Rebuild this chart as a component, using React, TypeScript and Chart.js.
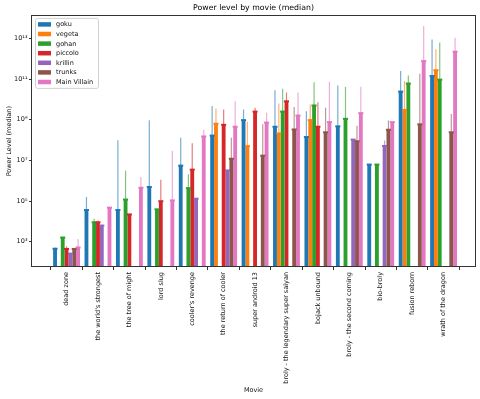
import React, { useEffect, useRef } from 'react';
import { Chart, registerables } from 'chart.js';

Chart.register(...registerables);

const categories = [
  'dead zone',
  "the world's strongest",
  'the tree of might',
  'lord slug',
  "cooler's revenge",
  'the return of cooler',
  'super android 13',
  'broly - the legendary super saiyan',
  'bojack unbound',
  'broly - the second coming',
  'bio-broly',
  'fusion reborn',
  'wrath of the dragon',
];

const seriesNames = ['goku', 'vegeta', 'gohan', 'piccolo', 'krillin', 'trunks', 'Main Villain'];
const seriesColors = ['#1f77b4', '#ff7f0e', '#2ca02c', '#d62728', '#9467bd', '#8c564b', '#e377c2'];

const N = null;
// medians
const goku = [450, 36000, 36000, 490000, 5.5e6, 1.65e8, 9.5e8, 4.5e8, 1.4e8, 4.7e8, 6.2e6, 2.4e10, 1.4e11];
const vegeta = [N, N, N, N, N, 6.3e8, 5e7, 2.1e8, 9.5e8, N, N, 3e9, 2.7e11];
const gohan = [1600, 9000, 118000, 39000, 430000, N, N, 2.5e9, 5e9, 1.1e9, 6.2e6, 6e10, 9.3e10];
const piccolo = [440, 9000, 22000, 98000, 3.5e6, 5.6e8, 2.5e9, 8e9, 4.5e8, N, N, N, N];
const krillin = [260, 6200, N, N, 130000, 3.2e6, N, N, N, 1.05e8, 5.1e7, N, N];
const trunks = [440, N, N, N, N, 1.2e7, 1.7e7, 3.3e8, 2.4e8, 8.7e7, 3.2e8, 5.9e8, 2.4e8];
const mainVillain = [520, 47000, 450000, 107000, 1.5e8, 4.5e8, 7.2e8, 1.6e9, 7.6e8, 2.1e9, 7.6e8, 7.6e11, 2.2e12];

// upper ends of the error bars
const gokuHigh = [520, 160000, 9.8e7, 9.5e8, 1.3e8, 4.7e9, 3.2e9, 2.8e10, 2.6e9, 4.8e10, N, 2.5e11, 8.9e12];
const vegetaHigh = [N, N, N, N, N, 3.5e9, 8e8, 6.3e9, 5.6e9, N, N, 7.9e10, 2.9e12];
const gohanHigh = [1750, 13500, 3.2e6, N, 2.1e6, N, N, 3.3e10, 7e10, 4e10, N, 1.5e11, 6.2e12];
const piccoloHigh = [600, 11000, N, 1.1e6, 6.9e7, 3.2e9, 3.9e9, 2.2e10, 7.2e9, N, N, N, N];
const krillinHigh = [N, 7000, N, N, N, N, N, N, N, N, 9.5e7, N, N];
const trunksHigh = [N, N, N, N, N, 1.3e8, 5.9e8, 4.2e9, 3.9e9, 5.1e8, 9.1e8, 1.8e11, 1.9e9];
const mainVillainHigh = [1350, N, 1.5e6, 3e7, 3.2e8, 8.1e9, 2.2e9, 2.2e10, 7.4e10, 4.2e10, N, 4e13, 1.07e13];

const seriesValues = [goku, vegeta, gohan, piccolo, krillin, trunks, mainVillain];
const seriesHigh = [gokuHigh, vegetaHigh, gohanHigh, piccoloHigh, krillinHigh, trunksHigh, mainVillainHigh];

const yTickValues = [1e3, 1e5, 1e7, 1e9, 1e11, 1e13];

const FONT = "'DejaVu Sans', sans-serif";

const supMap: Record<string, string> = {
  '0': '⁰', '1': '¹', '2': '²', '3': '³', '4': '⁴', '5': '⁵', '6': '⁶', '7': '⁷', '8': '⁸', '9': '⁹',
};
const logLabel = (v: number) => '10' + String(Math.round(Math.log10(v))).split('').map((c) => supMap[c]).join('');

const hexA = (hex: string, a: number) => {
  const r = parseInt(hex.slice(1, 3), 16), g = parseInt(hex.slice(3, 5), 16), b = parseInt(hex.slice(5, 7), 16);
  return `rgba(${r},${g},${b},${a})`;
};

const errorBarPlugin = {
  id: 'errorBars',
  afterDatasetsDraw(chart: any) {
    const ctx = chart.ctx;
    const yScale = chart.scales.y;
    const area = chart.chartArea;
    ctx.save();
    ctx.beginPath();
    ctx.rect(area.left, area.top, area.right - area.left, area.bottom - area.top);
    ctx.clip();
    chart.data.datasets.forEach((ds: any, i: number) => {
      const meta = chart.getDatasetMeta(i);
      const highs = seriesHigh[i];
      const color = seriesColors[i];
      meta.data.forEach((el: any, j: number) => {
        const v = ds.data[j].y;
        if (v == null) return;
        const p = el.getProps(['x', 'y', 'width'], true);
        const hi = highs[j];
        if (hi != null) {
          ctx.strokeStyle = hexA(color, 0.6);
          ctx.lineWidth = 1.2;
          ctx.beginPath();
          ctx.moveTo(p.x, p.y);
          ctx.lineTo(p.x, yScale.getPixelForValue(hi));
          ctx.stroke();
        }
        ctx.fillStyle = color;
        ctx.fillRect(p.x - p.width / 2 - 0.6, p.y - 1, p.width + 1.2, 2);
      });
    });
    ctx.restore();
  },
};

const framePlugin = {
  id: 'frame',
  afterDraw(chart: any) {
    const { ctx, chartArea: a } = chart;
    ctx.save();
    ctx.strokeStyle = '#333';
    ctx.lineWidth = 1;
    ctx.strokeRect(Math.round(a.left) - 0.5, Math.round(a.top) + 0.5, Math.round(a.right - a.left) + 1, Math.round(a.bottom - a.top) - 1);
    ctx.restore();
  },
};

const legendPlugin = {
  id: 'innerLegend',
  afterDraw(chart: any) {
    const { ctx, chartArea: a } = chart;
    const x0 = a.left + 3.5;
    const y0 = a.top + 3;
    const w = 63;
    const h = 70;
    ctx.save();
    ctx.fillStyle = 'rgba(255,255,255,0.8)';
    ctx.strokeStyle = '#d0d0d0';
    ctx.lineWidth = 1;
    ctx.beginPath();
    if (ctx.roundRect) ctx.roundRect(x0, y0, w, h, 2);
    else ctx.rect(x0, y0, w, h);
    ctx.fill();
    ctx.stroke();
    ctx.font = `6.5px ${FONT}`;
    ctx.textBaseline = 'middle';
    ctx.textAlign = 'left';
    chart.data.datasets.forEach((ds: any, i: number) => {
      const cy = y0 + 6 + i * 9.6;
      ctx.fillStyle = ds.backgroundColor;
      ctx.fillRect(x0 + 2.5, cy - 2.2, 13, 4.5);
      ctx.fillStyle = '#111';
      ctx.fillText(ds.label, x0 + 20.5, cy + 0.3);
    });
    ctx.restore();
  },
};

export default function App() {
  const canvasRef = useRef<HTMLCanvasElement | null>(null);

  useEffect(() => {
    if (!canvasRef.current) return;
    Chart.defaults.font.family = FONT;
    const datasets = seriesNames.map((name, i) => ({
      label: name,
      data: categories.map((_, j) => ({ x: j, y: seriesValues[i][j] })),
      backgroundColor: seriesColors[i],
      borderWidth: 0,
      categoryPercentage: 0.855,
      barPercentage: 1.0,
    }));
    const chart = new Chart(canvasRef.current, {
      type: 'bar',
      data: { datasets },
      plugins: [errorBarPlugin, framePlugin, legendPlugin],
      options: {
        animation: false,
        responsive: true,
        maintainAspectRatio: false,
        layout: { padding: { left: 0, right: 5, top: 0, bottom: 0 } },
        plugins: {
          legend: { display: false },
          tooltip: { enabled: false },
          title: {
            display: true,
            text: 'Power level by movie (median)',
            fullSize: false,
            color: '#000',
            font: { size: 7.8, weight: 'normal', family: FONT },
            padding: { top: 3, bottom: 3 },
          },
        },
        scales: {
          x: {
            type: 'linear',
            min: -1.1,
            max: 13.0,
            offset: false,
            afterBuildTicks: (scale: any) => {
              scale.ticks = categories.map((_, i) => ({ value: i }));
            },
            afterFit: (scale: any) => {
              scale.height = 132;
            },
            ticks: {
              autoSkip: false,
              minRotation: 90,
              maxRotation: 90,
              padding: 2,
              color: '#111',
              font: { size: 6.5, family: FONT },
              callback: (v: any) => categories[Math.round(Number(v))] ?? '',
            },
            grid: { display: true, drawOnChartArea: false, drawTicks: true, tickLength: 3, tickColor: '#333' },
            border: { display: false },
            title: {
              display: true,
              text: 'Movie',
              color: '#111',
              font: { size: 6.5, family: FONT },
              padding: { top: 5, bottom: 5 },
            },
          },
          y: {
            type: 'logarithmic',
            min: 57,
            max: 1.35e14,
            afterBuildTicks: (scale: any) => {
              scale.ticks = yTickValues.map((v) => ({ value: v, major: true }));
            },
            afterFit: (scale: any) => {
              scale.width = 32;
            },
            ticks: {
              autoSkip: false,
              padding: 1.5,
              color: '#111',
              font: { size: 6.5, family: FONT },
              callback: (v: any) => logLabel(Number(v)),
            },
            grid: { display: true, drawOnChartArea: false, drawTicks: true, tickLength: 3, tickColor: '#333' },
            border: { display: false },
            title: {
              display: true,
              text: 'Power Level (median)',
              color: '#111',
              font: { size: 6.5, family: FONT },
              padding: { top: 5, bottom: 5 },
            },
          },
        },
      } as any,
    });
    return () => chart.destroy();
  }, []);

  return (
    <div style={{ position: 'fixed', left: 0, top: 0, width: 480, height: 399, background: '#fff' }}>
      <canvas ref={canvasRef} />
    </div>
  );
}
